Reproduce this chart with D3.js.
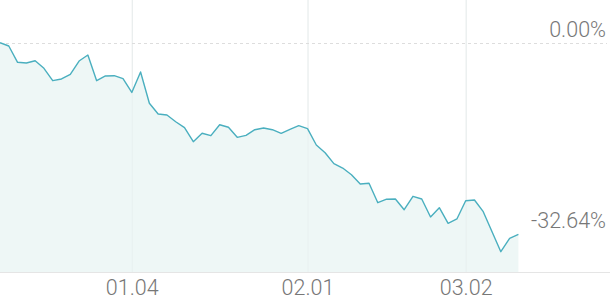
<!DOCTYPE html>
<html><head><meta charset="utf-8">
<script src="https://cdn.jsdelivr.net/npm/d3@7"></script>
<style>html,body{margin:0;padding:0;background:#fff;}svg{display:block;}</style>
</head><body><div id="chart"></div>
<script>
// cumulative return (%) per trading day, index 0..59
const values = [0, -0.56, -3.34, -3.46, -3.07, -4.36, -6.47, -6.18, -5.38, -3.12,
  -2.10, -6.47, -5.67, -5.62, -6.13, -8.48, -4.99, -10.32, -12.15, -12.32,
  -13.46, -14.48, -16.87, -15.43, -15.84, -13.97, -14.41, -16.12, -15.78, -14.82,
  -14.53, -14.82, -15.43, -14.75, -14.14, -14.65, -17.43, -18.74, -20.61, -21.35,
  -22.49, -24.07, -23.95, -27.26, -26.66, -26.63, -28.45, -26.17, -26.63, -29.69,
  -28.11, -30.77, -30.03, -26.92, -26.80, -28.79, -32.20, -35.60, -33.32, -32.64];
const tickIndex = [15, 35, 53];
const tickLabels = ["01.04", "02.01", "03.02"];
const refValues = [0, -32.64];
const refLabels = ["0.00%", "-32.64%"];

const W = 610, H = 300;
const plotBottom = 272.5;
const svg = d3.select("#chart").append("svg").attr("width", W).attr("height", H);

const x = d3.scaleLinear().domain([0, values.length - 1]).range([0, 518.4]);
const y = d3.scaleLinear().domain([0, -32.64]).range([42.7, 234.3]);

// vertical grid lines
svg.append("g").selectAll("line").data(tickIndex).join("line")
  .attr("x1", d => x(d) + 0.5).attr("x2", d => x(d) + 0.5)
  .attr("y1", 0).attr("y2", plotBottom)
  .attr("stroke", "#eeeeee").attr("stroke-width", 1);

// area
const area = d3.area().x((d, i) => x(i)).y0(plotBottom).y1(d => y(d));
svg.append("path").datum(values).attr("d", area).attr("fill", "#eef7f6");

// vertical grid lines over area (subtle)
svg.append("g").selectAll("line").data(tickIndex).join("line")
  .attr("x1", d => x(d) + 0.5).attr("x2", d => x(d) + 0.5)
  .attr("y1", 0).attr("y2", plotBottom)
  .attr("stroke", "#e6eeee").attr("stroke-width", 1).attr("opacity", 0.7);

// zero dashed line
svg.append("line").attr("x1", 0).attr("x2", 607)
  .attr("y1", Math.round(y(0)) + 0.5).attr("y2", Math.round(y(0)) + 0.5)
  .attr("stroke", "#dddddd").attr("stroke-dasharray", "3,3");

// bottom axis line
svg.append("line").attr("x1", 0).attr("x2", W)
  .attr("y1", plotBottom).attr("y2", plotBottom)
  .attr("stroke", "#e5e5e5").attr("stroke-width", 1);

// line
const line = d3.line().x((d, i) => x(i)).y(d => y(d));
svg.append("path").datum(values).attr("d", line)
  .attr("fill", "none").attr("stroke", "#4aafbf").attr("stroke-width", 1.4)
  .attr("stroke-linejoin", "round");

// x tick labels
svg.append("g").selectAll("text").data(tickIndex).join("text")
  .attr("x", d => x(d) + 0.5).attr("y", 295)
  .attr("text-anchor", "middle")
  .attr("font-family", "Roboto, sans-serif").attr("font-weight", 300)
  .attr("font-size", 21.5).attr("fill", "#777")
  .text((d, i) => tickLabels[i]);

// reference labels
svg.append("g").selectAll("text").data(refValues).join("text")
  .attr("x", 606).attr("y", d => y(d) - 6)
  .attr("text-anchor", "end")
  .attr("font-family", "Roboto, sans-serif").attr("font-weight", 300)
  .attr("font-size", 21.5).attr("fill", "#777")
  .text((d, i) => refLabels[i]);
</script></body></html>
